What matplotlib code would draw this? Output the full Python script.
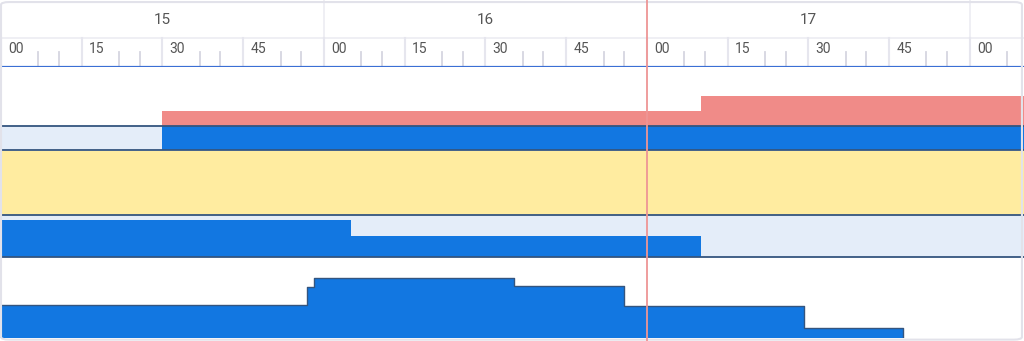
import matplotlib
matplotlib.use('Agg')
import matplotlib.pyplot as plt
from matplotlib.patches import FancyBboxPatch

plt.rcParams['font.family'] = ['Roboto', 'DejaVu Sans']

# time axis in minutes after 15:00
hours = [15, 16, 17]
now_min = 120.1

# row 1: tariff steps
tariff_t = [-5, 30, 130, 195]
tariff_v = [0, 1, 2, 2]

# row 2: on/off state
state_t = [-5, 30, 195]
state_v = [0, 1, 1]

# row 4: level (fraction)
level_t = [-5, 65, 130, 195]
level_v = [1.0, 0.57, 0, 0]

# row 5: power steps
power_t = [-5, 56.8, 58.2, 95.3, 115.7, 149.1, 167.6]
power_v = [3.3, 5.1, 6.0, 5.2, 3.2, 1.0, 0]

W, H = 1024, 341
PX_PER_MIN = 5.383
X0 = -1 / PX_PER_MIN
X1 = (W - 1) / PX_PER_MIN

BLUE = '#1277e1'
LIGHT = '#e4edf9'
SALMON = '#f08b88'
YELLOW = '#ffeca0'
FRAME = '#34557f'
TEXT = '#555555'

fig = plt.figure(figsize=(W / 100, H / 100), dpi=100)


def band(top, bottom):
    ax = fig.add_axes([0, 1 - bottom / H, 1, (bottom - top) / H])
    ax.set_xlim(X0, X1)
    ax.set_xticks([])
    ax.set_yticks([])
    for s in ax.spines.values():
        s.set_visible(False)
    ax.patch.set_alpha(0)
    return ax


def step_line(t, v):
    xs, ys = [], []
    for i in range(len(t)):
        if i > 0:
            xs.append(t[i]); ys.append(v[i - 1])
        xs.append(t[i]); ys.append(v[i])
    return xs, ys


# header with hours and minutes
hdr = band(0, 67)
hdr.set_ylim(67, 0)
for i, h in enumerate(hours):
    hdr.text(i * 60 + 30, 20, str(h), ha='center', va='center', fontsize=11, color=TEXT)
for m in (60, 180):
    hdr.plot([m, m], [0, 38], color='#ececf2', lw=1.2)
hdr.axhline(38, color='#ececf2', lw=1.2)
for m in range(0, 181, 15):
    hdr.plot([m, m], [38, 67], color='#e6e6ee', lw=1.5)
    hdr.text(m + 7 / PX_PER_MIN, 49, '%02d' % (m % 60), ha='left', va='center',
             fontsize=10, color=TEXT)
    for off in (6.93, 10.77):
        hdr.plot([m + off, m + off], [52, 67], color='#d6d6e0', lw=1.3)
hdr.axhline(67, color='#3b6fd4', lw=1.6)

# row 1
r1 = band(67, 126)
r1.set_ylim(0, 3.93)
r1.fill_between(tariff_t, tariff_v, step='post', color=SALMON, lw=0)

# row 2
r2 = band(126, 150)
r2.set_ylim(0, 1)
r2.patch.set_facecolor(LIGHT); r2.patch.set_alpha(1)
r2.fill_between(state_t, state_v, step='post', color=BLUE, lw=0)
for s in ('top', 'bottom'):
    r2.spines[s].set_visible(True)
    r2.spines[s].set_color(FRAME)
    r2.spines[s].set_linewidth(1.3)

# row 3
r3 = band(151, 215)
r3.patch.set_facecolor(YELLOW); r3.patch.set_alpha(1)

# row 4
r4 = band(215, 257)
r4.set_ylim(0, 1.135)
r4.patch.set_facecolor(LIGHT); r4.patch.set_alpha(1)
r4.fill_between(level_t, level_v, step='post', color=BLUE, lw=0)
for s in ('top', 'bottom'):
    r4.spines[s].set_visible(True)
    r4.spines[s].set_color(FRAME)
    r4.spines[s].set_linewidth(1.3)

# row 5
r5 = band(257, 338)
r5.set_ylim(0, 8.1)
r5.fill_between(power_t, power_v, step='post', color=BLUE, lw=0)
px, py = step_line(power_t, power_v)
r5.plot(px, py, color=FRAME, lw=1.0)

# overlay: now marker and card border
ov = band(0, H)
ov.set_ylim(H, 0)
ov.axvline(now_min, color='#ee9595', lw=1.3)
ov.add_patch(FancyBboxPatch((0.001, 0.004), 0.997, 0.99, boxstyle='round,pad=0,rounding_size=0.008',
                            transform=ov.transAxes, fill=False, ec='#e2e2ea', lw=1.5))

fig.savefig('out.png', dpi=100)
